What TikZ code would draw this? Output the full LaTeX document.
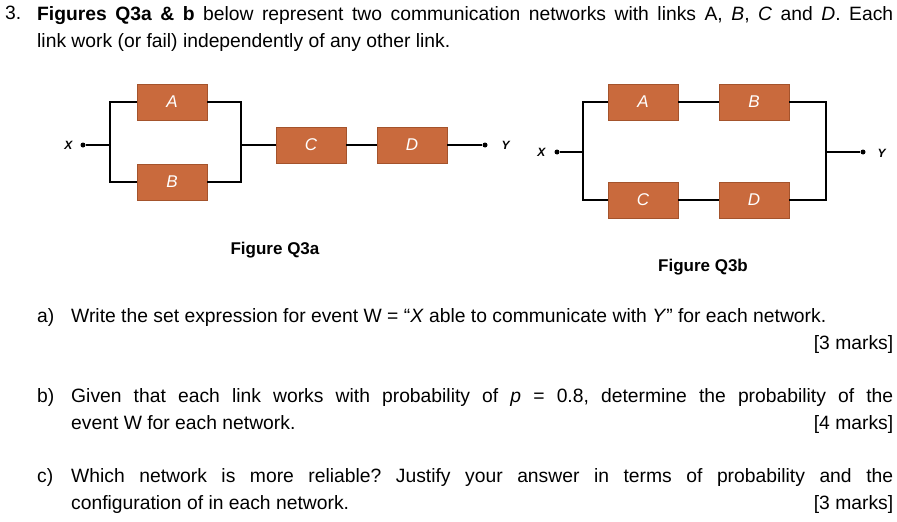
\documentclass[tikz,border=0pt]{standalone}
\usepackage{fontspec}
\setmainfont{Liberation Sans}
\definecolor{boxc}{HTML}{C96A3D}
\definecolor{boxd}{HTML}{A4532C}
\frenchspacing
\begin{document}
\begin{tikzpicture}[x=1pt,y=-1pt,
  blk/.style={draw=boxd,fill=boxc,minimum width=70pt,minimum height=36pt,inner sep=0pt,text=white,font=\itshape\fontsize{17}{17}\selectfont},
  wire/.style={line width=1.3pt},
  dot/.style={circle,fill=black,inner sep=0pt,minimum size=5pt},
  lbl/.style={font=\bfseries\itshape\fontsize{12}{12}\selectfont},
  txt/.style={font=\fontsize{19.3}{27}\selectfont},
  para/.style={txt,anchor=north west,text width=822pt,align=justify,inner sep=0pt}]
\useasboundingbox (0,0) rectangle (897,522);
% header
\node[txt,anchor=north west,inner sep=0pt] (n3) at (5,6) {3.};
\node[txt,anchor=north west,inner sep=0pt,text width=856pt,align=justify] (hdr) at (37,6)
 {\textbf{Figures Q3a \& b} below represent two communication networks with links A, \textit{B}, \textit{C} and \textit{D}. Each\linebreak link work (or fail) independently of any other link.};
% Fig Q3a
\node[dot] (x1) at (83,145) {};
\node[lbl,anchor=east] (xl1) at (76,145) {X};
\coordinate (s1) at (110,145);
\node[blk] (a1) at (172,102) {A};
\node[blk] (b1) at (172,182) {B};
\coordinate (m1) at (241,145);
\node[blk] (c1) at (311,145) {C};
\node[blk] (d1) at (412,145) {D};
\node[dot] (y1) at (485,145) {};
\node[lbl,anchor=west] (yl1) at (498,145) {Y};
\draw[wire] (x1) -- (s1) |- (a1.west);
\draw[wire] (s1) |- (b1.west);
\draw[wire] (a1.east) -| (m1) |- (b1.east);
\draw[wire] (m1) -- (c1.west);
\draw[wire] (c1) -- (d1);
\draw[wire] (d1) -- (y1);
\node[font=\bfseries\fontsize{17}{20}\selectfont] (f1) at (275,250) {Figure Q3a};
% Fig Q3b
\node[dot] (x2) at (557,152) {};
\node[lbl,anchor=east] (xl2) at (549,152) {X};
\coordinate (s2) at (583,152);
\node[blk] (a2) at (643,102) {A};
\node[blk] (b2) at (754,102) {B};
\node[blk] (c2) at (643,200) {C};
\node[blk] (d2) at (754,200) {D};
\coordinate (m2) at (826,152);
\node[dot] (y2) at (863,152) {};
\node[lbl,anchor=west] (yl2) at (874,153) {Y};
\draw[wire] (x2) -- (s2) |- (a2.west);
\draw[wire] (s2) |- (c2.west);
\draw[wire] (a2) -- (b2);
\draw[wire] (c2) -- (d2);
\draw[wire] (b2.east) -| (m2) |- (d2.east);
\draw[wire] (m2) -- (y2);
\node[font=\bfseries\fontsize{17}{20}\selectfont] (f2) at (703,267) {Figure Q3b};
% questions
\node[txt,anchor=north west,inner sep=0pt] (la) at (37,308) {a)};
\node[para] (qa) at (71,308) {Write the set expression for event W = “\textit{X} able to communicate with \textit{Y}” for each network.\newline\hspace*{\fill}[3 marks]};
\node[txt,anchor=north west,inner sep=0pt] (lb) at (37,388) {b)};
\node[para] (qb) at (71,388) {Given that each link works with probability of \textit{p} = 0.8, determine the probability of the\linebreak event W for each network.\hfill[4 marks]};
\node[txt,anchor=north west,inner sep=0pt] (lc) at (37,468) {c)};
\node[para] (qc) at (71,468) {Which network is more reliable? Justify your answer in terms of probability and the\linebreak configuration of in each network.\hfill[3 marks]};
\end{tikzpicture}
\end{document}
